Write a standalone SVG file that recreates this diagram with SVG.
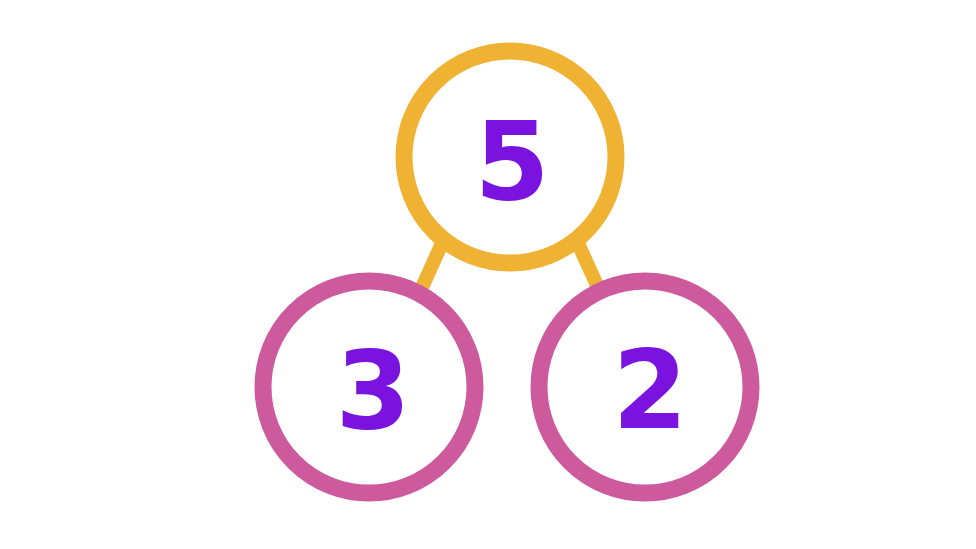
<svg xmlns="http://www.w3.org/2000/svg" width="976" height="549" viewBox="0 0 976 549">
<style>
.lnk{stroke:#F0B233;stroke-width:14;fill:none}
.top{fill:#fff;stroke:#F0B233;stroke-width:17}
.bot{fill:#fff;stroke:#CC5A9D;stroke-width:17}
.num{font-family:"DejaVu Sans",sans-serif;font-weight:900;font-size:108px;fill:#7A12E0;text-anchor:middle}
</style>
<rect width="976" height="549" fill="#fff"/>
<g id="connectors">
<line class="lnk" x1="481" y1="157" x2="377" y2="387"/>
<line class="lnk" x1="539" y1="157" x2="643" y2="387"/>
</g>
<g id="node-5"><circle class="top" cx="510" cy="157" r="106"/><text class="num" x="512" y="199">5</text></g>
<g id="node-3"><circle class="bot" cx="369" cy="387" r="106"/><text class="num" x="373" y="428">3</text></g>
<g id="node-2"><circle class="bot" cx="645" cy="387" r="106"/><text class="num" x="650" y="428">2</text></g>
</svg>
